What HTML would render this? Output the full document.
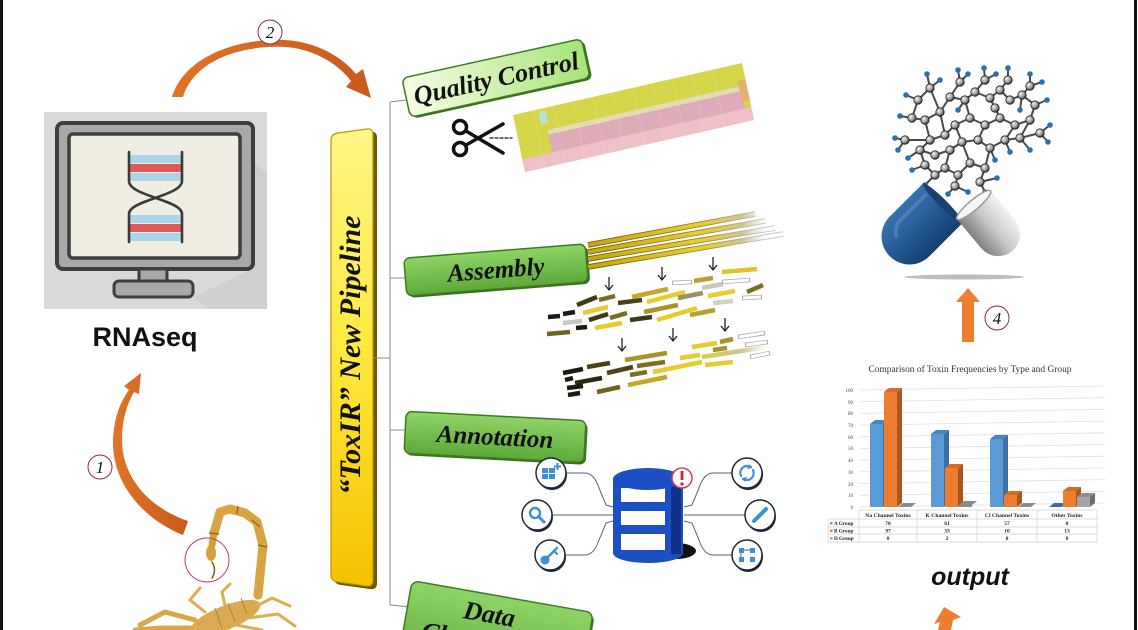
<!DOCTYPE html>
<html><head><meta charset="utf-8"><style>
html,body{margin:0;padding:0;background:#fff;}
body{width:1138px;height:630px;overflow:hidden;}
svg{display:block;overflow:hidden;}
</style></head><body>
<svg width="1138" height="630" viewBox="0 0 1138 630" xmlns="http://www.w3.org/2000/svg">
<defs>
<clipPath id="frame"><rect x="0" y="0" width="1138" height="630"/></clipPath>
<linearGradient id="org" x1="0" y1="0" x2="1" y2="0"><stop offset="0" stop-color="#e07428"/><stop offset="1" stop-color="#c95a1c"/></linearGradient>
<linearGradient id="bar" x1="0" y1="0" x2="0" y2="1"><stop offset="0" stop-color="#fff689"/><stop offset="0.5" stop-color="#ffe93a"/><stop offset="1" stop-color="#f6c000"/></linearGradient>
<linearGradient id="qc" x1="0" y1="0" x2="1" y2="0"><stop offset="0" stop-color="#f6fde6"/><stop offset="1" stop-color="#a6e47a"/></linearGradient>
<linearGradient id="gb" x1="0" y1="0" x2="0" y2="1"><stop offset="0" stop-color="#8fd466"/><stop offset="1" stop-color="#5ea83a"/></linearGradient>
<linearGradient id="rd" gradientUnits="userSpaceOnUse" x1="588" y1="0" x2="785" y2="0"><stop offset="0" stop-color="#c4a412"/><stop offset="0.55" stop-color="#e8cc30"/><stop offset="0.78" stop-color="#cfc490"/><stop offset="0.9" stop-color="#ffffff"/><stop offset="1" stop-color="#ffffff"/></linearGradient>
<linearGradient id="rdo" gradientUnits="userSpaceOnUse" x1="588" y1="0" x2="785" y2="0"><stop offset="0" stop-color="#6b5a00"/><stop offset="0.6" stop-color="#9a8a20"/><stop offset="0.85" stop-color="#bbbbbb"/><stop offset="1" stop-color="#c4c4c4"/></linearGradient>
<linearGradient id="blu" x1="0" y1="0" x2="0" y2="1"><stop offset="0" stop-color="#3a72ae"/><stop offset="0.5" stop-color="#245a94"/><stop offset="1" stop-color="#163f70"/></linearGradient>
<linearGradient id="gry" x1="0" y1="0" x2="0" y2="1"><stop offset="0" stop-color="#f2f2f2"/><stop offset="0.5" stop-color="#c8c8c8"/><stop offset="1" stop-color="#7e7e7e"/></linearGradient>
<radialGradient id="atom" cx="0.35" cy="0.35" r="0.7"><stop offset="0" stop-color="#f4f4f4"/><stop offset="0.6" stop-color="#9a9a9a"/><stop offset="1" stop-color="#2a2a2a"/></radialGradient>
</defs>
<g clip-path="url(#frame)">

<!-- frame -->
<rect x="0" y="0" width="3" height="630" fill="#111"/>
<rect x="1134" y="0" width="3" height="630" fill="#111"/>

<!-- computer -->
<rect x="44" y="112" width="223" height="197" fill="#d9d9d9"/>
<polygon points="253,160 267,175 267,309 210,309 193,297 253,269" fill="#cfcfcf"/>
<rect x="57" y="123" width="196" height="146" rx="6" fill="#a8a8a8" stroke="#3e3e3e" stroke-width="4"/>
<rect x="69" y="134" width="171" height="124" rx="4" fill="#f0ede2" stroke="#3e3e3e" stroke-width="3.5"/>
<rect x="139" y="269" width="28" height="14" fill="#a8a8a8" stroke="#3e3e3e" stroke-width="3"/>
<rect x="114" y="281" width="79" height="16" rx="5" fill="#a8a8a8" stroke="#3e3e3e" stroke-width="3"/>
<!-- DNA -->
<rect x="129" y="155" width="53" height="8" fill="#a9d4ea"/>
<rect x="129" y="164" width="53" height="8" fill="#e05a5a"/>
<rect x="129" y="173" width="53" height="8" fill="#a9d4ea"/>
<rect x="129" y="215" width="53" height="8" fill="#a9d4ea"/>
<rect x="129" y="224" width="53" height="8" fill="#e05a5a"/>
<rect x="129" y="233" width="53" height="8" fill="#a9d4ea"/>
<g fill="none" stroke="#3a3a3a" stroke-width="2.6" stroke-linecap="round">
<path d="M129,152 L129,181 C129,196 182,200 182,214 L182,242"/>
<path d="M182,152 L182,181 C182,196 129,200 129,214 L129,242"/>
</g>
<text x="145" y="346" font-family="Liberation Sans, sans-serif" font-weight="bold" font-size="27" text-anchor="middle" fill="#111">RNAseq</text>

<!-- arrow 2 -->
<path d="M172,97 C185,55 240,38 285,40 C318,42 343,58 356,74 L363,69 L371,98 L346,87 L351,81 C340,66 316,49 285,47 C245,45 195,58 183,97 Z" fill="url(#org)"/>
<circle cx="270" cy="32" r="12" fill="#fff" stroke="#8b2a4a" stroke-width="1"/>
<text x="270" y="38" font-family="Liberation Serif, serif" font-style="italic" font-size="17" text-anchor="middle" fill="#111">2</text>

<!-- arrow 1 -->
<path d="M183,535 C145,520 112,485 113,440 C114,418 120,402 129,390 L124,386 L141,373 L139,394 L134,392 C127,404 122,420 122,440 C122,478 150,508 188,521 Z" fill="url(#org)"/>
<circle cx="100" cy="467" r="12" fill="#fff" stroke="#8b2a4a" stroke-width="1"/>
<text x="100" y="473" font-family="Liberation Serif, serif" font-style="italic" font-size="17" text-anchor="middle" fill="#111">1</text>

<!-- scorpion -->
<g stroke-linecap="round" stroke-linejoin="round" fill="none">
<path d="M245,612 L272,598 L290,606" stroke="#dcae52" stroke-width="3"/>
<path d="M248,618 L278,614 L295,626" stroke="#dcae52" stroke-width="3"/>
<path d="M236,625 L262,630" stroke="#dcae52" stroke-width="3"/>
<path d="M225,605 L222,592 L230,584" stroke="#dcae52" stroke-width="3"/>
<path d="M205,612 L190,600 L200,588" stroke="#dcae52" stroke-width="3"/>
<path d="M195,620 L165,612 L140,625" stroke="#d8a848" stroke-width="5"/>
<path d="M190,628 L160,628 L135,630" stroke="#d8a848" stroke-width="5"/>
<path d="M258,595 L263,545 L257,522 L245,513 L230,509 L220,512 L214,533" stroke="#d9a443" stroke-width="9"/>
<path d="M214,533 L212,545" stroke="#d6a040" stroke-width="7"/>
<path d="M212,562 Q217,570 212,578" stroke="#7a5a20" stroke-width="1.5"/>
</g>
<g stroke="#8a6020" stroke-width="1.2">
<line x1="258" y1="545" x2="267" y2="547"/><line x1="252" y1="520" x2="260" y2="527"/><line x1="238" y1="506" x2="237" y2="514"/><line x1="209" y1="533" x2="219" y2="534"/>
</g>
<ellipse cx="211" cy="553" rx="5" ry="8" fill="#d6a040"/>
<ellipse cx="225" cy="618" rx="38" ry="12" transform="rotate(-22 225 618)" fill="#d9aa52"/>
<g stroke="#b08030" stroke-width="1"><line x1="215" y1="608" x2="222" y2="628"/><line x1="228" y1="603" x2="235" y2="622"/><line x1="241" y1="598" x2="247" y2="614"/></g>
<circle cx="207" cy="560" r="22" fill="none" stroke="#c0406a" stroke-width="1"/>

<!-- pipeline bar -->
<path d="M334,143 Q334,137 341,136 L371,132 Q377,131 377,138 L377,583 Q377,590 370,589 L341,585 Q334,584 334,578 Z" fill="#6e5c00"/>
<path d="M331,140 Q331,134 338,133 L367,129 Q373,128 373,135 L373,580 Q373,587 366,586 L338,582 Q331,581 331,575 Z" fill="url(#bar)" stroke="#b89800" stroke-width="1.2"/>
<text transform="translate(360,355) rotate(-90)" font-family="Liberation Serif, serif" font-weight="bold" font-style="italic" font-size="30" text-anchor="middle" fill="#111">“ToxIR” New Pipeline</text>

<!-- connectors -->
<g stroke="#8a8a8a" stroke-width="1" fill="none">
<line x1="390" y1="102" x2="390" y2="605"/>
<line x1="390" y1="102" x2="406" y2="100"/>
<line x1="390" y1="278" x2="407" y2="278"/>
<line x1="373" y1="358" x2="390" y2="358"/>
<line x1="390" y1="430" x2="407" y2="430"/>
<line x1="390" y1="605" x2="410" y2="607"/>
</g>

<!-- Quality Control box -->
<g transform="translate(496,78) rotate(-12.4)">
<rect x="-90" y="-18" width="184" height="40" rx="6" fill="#3a6e1e"/>
<rect x="-92" y="-20" width="184" height="40" rx="6" fill="url(#qc)" stroke="#3f7a20" stroke-width="1.5"/>
<text x="0" y="9" font-family="Liberation Serif, serif" font-weight="bold" font-style="italic" font-size="26" text-anchor="middle" fill="#111">Quality Control</text>
</g>
<!-- scissors -->
<g fill="none" stroke="#111" stroke-linecap="round">
<circle cx="460" cy="127" r="6.5" stroke-width="3.5"/>
<circle cx="460" cy="149" r="6.5" stroke-width="3.5"/>
<path d="M466,131 L503,153" stroke-width="3.5"/>
<path d="M466,145 L503,124" stroke-width="3.5"/>
<line x1="490" y1="138" x2="512" y2="138" stroke-width="1.3" stroke-dasharray="3,2"/>
</g>
<!-- QC heatmap -->
<g transform="matrix(0.9957,-0.226,0.207,0.983,513,115)">
<rect x="0" y="0" width="230" height="58" fill="#d6d64a"/>
<rect x="30" y="22" width="192" height="5" fill="#e6dcb4"/>
<rect x="30" y="27" width="194" height="18" fill="#deacb8"/>
<rect x="0" y="45" width="230" height="13" fill="#f0c0c8"/>
<rect x="222" y="16" width="8" height="22" fill="#e4b070"/>
<rect x="25" y="3" width="7" height="12" fill="#b4e4dc"/>
<g stroke="#ffffff" stroke-opacity="0.25" stroke-width="0.6">
<line x1="20" y1="0" x2="20" y2="58"/><line x1="40" y1="0" x2="40" y2="58"/><line x1="60" y1="0" x2="60" y2="58"/><line x1="80" y1="0" x2="80" y2="58"/><line x1="100" y1="0" x2="100" y2="58"/><line x1="120" y1="0" x2="120" y2="58"/><line x1="140" y1="0" x2="140" y2="58"/><line x1="160" y1="0" x2="160" y2="58"/><line x1="180" y1="0" x2="180" y2="58"/><line x1="200" y1="0" x2="200" y2="58"/>
</g>
</g>

<!-- Assembly box -->
<g transform="translate(496,270) rotate(-4.5)">
<rect x="-89" y="-17" width="182" height="38" rx="6" fill="#3a6e1e"/>
<rect x="-91" y="-19" width="182" height="38" rx="6" fill="url(#gb)" stroke="#3f7a20" stroke-width="1.5"/>
<text x="0" y="8" font-family="Liberation Serif, serif" font-weight="bold" font-style="italic" font-size="25" text-anchor="middle" fill="#111">Assembly</text>
</g>
<!-- long reads -->
<g stroke-linecap="butt">
<line x1="588" y1="245" x2="755" y2="214" stroke="url(#rdo)" stroke-width="5.5"/>
<line x1="588" y1="252" x2="765" y2="221" stroke="url(#rdo)" stroke-width="5.5"/>
<line x1="588" y1="259" x2="775" y2="228" stroke="url(#rdo)" stroke-width="5.5"/>
<line x1="588" y1="267" x2="783" y2="234" stroke="url(#rdo)" stroke-width="5.5"/>
<line x1="588" y1="245" x2="755" y2="214" stroke="url(#rd)" stroke-width="3.8"/>
<line x1="588" y1="252" x2="765" y2="221" stroke="url(#rd)" stroke-width="3.8"/>
<line x1="588" y1="259" x2="775" y2="228" stroke="url(#rd)" stroke-width="3.8"/>
<line x1="588" y1="267" x2="783" y2="234" stroke="url(#rd)" stroke-width="3.8"/>
</g>
<!-- arrows down -->
<g stroke="#222" stroke-width="1.3" fill="none">
<path d="M609,277 L609,290 M605,285 L609,290 L613,285"/>
<path d="M662,267 L662,280 M658,275 L662,280 L666,275"/>
<path d="M713,257 L713,270 M709,265 L713,270 L717,265"/>
<path d="M622,338 L622,351 M618,346 L622,351 L626,346"/>
<path d="M673,328 L673,341 M669,336 L673,341 L677,336"/>
<path d="M725,318 L725,331 M721,326 L725,331 L729,326"/>
</g>
<!-- fragments -->
<g stroke-width="4.5" stroke-linecap="butt">
<line x1="548" y1="317" x2="560" y2="316" stroke="#1a1a10"/>
<line x1="563" y1="314" x2="575" y2="312" stroke="#1a1a10"/>
<line x1="577" y1="305" x2="597" y2="297" stroke="#3d3a18"/>
<line x1="599" y1="300" x2="615" y2="296" stroke="#7a7020"/>
<line x1="583" y1="313" x2="608" y2="307" stroke="#e6cc30"/>
<line x1="563" y1="323" x2="582" y2="321" stroke="#c8c8c0"/>
<line x1="576" y1="328" x2="587" y2="327" stroke="#1a1a10"/>
<line x1="589" y1="320" x2="608" y2="314" stroke="#3d3a18"/>
<line x1="610" y1="318" x2="627" y2="313" stroke="#7a7020"/>
<line x1="547" y1="334" x2="570" y2="332" stroke="#6e6420"/>
<line x1="595" y1="328" x2="622" y2="323" stroke="#e6cc30"/>
<line x1="618" y1="303" x2="642" y2="300" stroke="#4a4418"/>
<line x1="632" y1="297" x2="668" y2="289" stroke="#c4a828"/>
<line x1="647" y1="302" x2="685" y2="292" stroke="#e6cc30"/>
<line x1="630" y1="320" x2="652" y2="317" stroke="#3d3a18"/>
<line x1="644" y1="312" x2="678" y2="305" stroke="#a89428"/>
<line x1="657" y1="320" x2="697" y2="308" stroke="#e6cc30"/>
<line x1="678" y1="298" x2="703" y2="293" stroke="#9a9060"/>
<line x1="694" y1="281" x2="713" y2="278" stroke="#b8a030"/>
<line x1="702" y1="288" x2="723" y2="284" stroke="#c8c8c0"/>
<line x1="722" y1="272" x2="757" y2="269" stroke="#e0c428"/>
<line x1="708" y1="296" x2="735" y2="291" stroke="#e6cc30"/>
<line x1="690" y1="315" x2="715" y2="310" stroke="#b8a030"/>
<line x1="713" y1="303" x2="733" y2="301" stroke="#d0d0c8"/>
<line x1="747" y1="292" x2="763" y2="285" stroke="#7a7020"/>
<line x1="563" y1="373" x2="583" y2="369" stroke="#1a1a10"/>
<line x1="565" y1="380" x2="573" y2="378" stroke="#1a1a10"/>
<line x1="575" y1="383" x2="602" y2="378" stroke="#2a2810"/>
<line x1="567" y1="388" x2="583" y2="386" stroke="#1a1a10"/>
<line x1="568" y1="395" x2="580" y2="393" stroke="#1a1a10"/>
<line x1="587" y1="367" x2="610" y2="363" stroke="#4a4418"/>
<line x1="597" y1="392" x2="620" y2="387" stroke="#6e6420"/>
<line x1="607" y1="373" x2="633" y2="367" stroke="#4a4418"/>
<line x1="625" y1="360" x2="667" y2="353" stroke="#a89428"/>
<line x1="630" y1="375" x2="647" y2="372" stroke="#7a7020"/>
<line x1="628" y1="385" x2="667" y2="377" stroke="#c4a828"/>
<line x1="637" y1="366" x2="665" y2="362" stroke="#7a7020"/>
<line x1="653" y1="372" x2="702" y2="362" stroke="#e6cc30"/>
<line x1="680" y1="358" x2="700" y2="355" stroke="#e6cc30"/>
<line x1="692" y1="347" x2="717" y2="343" stroke="#e6cc30"/>
<line x1="720" y1="342" x2="733" y2="339" stroke="#a89428"/>
<line x1="713" y1="350" x2="727" y2="348" stroke="#a89428"/>
<line x1="705" y1="365" x2="733" y2="362" stroke="#e6cc30"/>
<line x1="702" y1="357" x2="767" y2="347" stroke="url(#rd)"/>
</g>
<g stroke-width="4.5">
<line x1="672" y1="283" x2="692" y2="282" stroke="#aaa"/>
<line x1="722" y1="282" x2="750" y2="280" stroke="#aaa"/>
<line x1="742" y1="298" x2="762" y2="297" stroke="#aaa"/>
<line x1="738" y1="337" x2="765" y2="333" stroke="#aaa"/>
<line x1="745" y1="345" x2="768" y2="342" stroke="#aaa"/>
<line x1="750" y1="357" x2="770" y2="353" stroke="#aaa"/>
</g>
<g stroke-width="3" stroke="#fff">
<line x1="673" y1="283" x2="691" y2="282"/>
<line x1="723" y1="282" x2="749" y2="280"/>
<line x1="743" y1="298" x2="761" y2="297"/>
<line x1="739" y1="337" x2="764" y2="333"/>
<line x1="746" y1="345" x2="767" y2="342"/>
<line x1="751" y1="357" x2="769" y2="353"/>
</g>

<!-- Annotation box -->
<g transform="translate(495,437) rotate(3)">
<rect x="-88" y="-19" width="180" height="42" rx="6" fill="#3a6e1e"/>
<rect x="-90" y="-21" width="180" height="42" rx="6" fill="url(#gb)" stroke="#3f7a20" stroke-width="1.5"/>
<text x="0" y="8" font-family="Liberation Serif, serif" font-weight="bold" font-style="italic" font-size="25" text-anchor="middle" fill="#111">Annotation</text>
</g>

<!-- database -->
<g stroke="#5a6270" stroke-width="1" fill="none">
<path d="M566,473 L585,473 Q594,473 599,488 L606,505 L613,507"/>
<line x1="553" y1="515" x2="613" y2="515"/>
<path d="M566,555 L585,555 Q594,555 599,540 L606,523 L613,521"/>
<path d="M732,473 L713,473 Q704,473 699,488 L692,505 L684,507"/>
<line x1="745" y1="515" x2="684" y2="515"/>
<path d="M732,555 L713,555 Q704,555 699,540 L692,523 L684,521"/>
</g>
<ellipse cx="676" cy="551" rx="20" ry="8" fill="#111"/>
<path d="M613,479 L613,553 A35,10 0 0 0 683,553 L683,479 Z" fill="#1d4fc4"/>
<rect x="621" y="488" width="44" height="14" fill="#fff"/>
<rect x="621" y="511" width="44" height="14" fill="#fff"/>
<rect x="621" y="534" width="44" height="16" fill="#fff"/>
<rect x="671" y="486" width="10" height="68" fill="#10308a"/>
<ellipse cx="648" cy="479" rx="35" ry="11" fill="#1d4fc4"/>
<circle cx="682" cy="478" r="10" fill="#fff" stroke="#d04050" stroke-width="1.5"/>
<rect x="680.6" y="471" width="2.8" height="9" fill="#d02030"/>
<circle cx="682" cy="484" r="1.6" fill="#d02030"/>
<!-- icon circles -->
<g>
<circle cx="552" cy="475" r="15" fill="#1c2838"/><circle cx="551" cy="473" r="15" fill="#fff" stroke="#1c2838" stroke-width="1.5"/>
<circle cx="538" cy="517" r="15" fill="#1c2838"/><circle cx="537" cy="515" r="15" fill="#fff" stroke="#1c2838" stroke-width="1.5"/>
<circle cx="551" cy="557" r="15" fill="#1c2838"/><circle cx="550" cy="555" r="15" fill="#fff" stroke="#1c2838" stroke-width="1.5"/>
<circle cx="748" cy="475" r="15" fill="#1c2838"/><circle cx="747" cy="473" r="15" fill="#fff" stroke="#1c2838" stroke-width="1.5"/>
<circle cx="761" cy="517" r="15" fill="#1c2838"/><circle cx="760" cy="515" r="15" fill="#fff" stroke="#1c2838" stroke-width="1.5"/>
<circle cx="748" cy="557" r="15" fill="#1c2838"/><circle cx="747" cy="555" r="15" fill="#fff" stroke="#1c2838" stroke-width="1.5"/>
</g>
<g fill="#3d8fd6">
<rect x="542" y="468" width="6" height="5"/><rect x="549" y="468" width="6" height="5"/><rect x="542" y="474" width="6" height="5"/><rect x="549" y="474" width="6" height="5"/>
<rect x="556.5" y="463" width="2" height="7"/><rect x="554" y="465.5" width="7" height="2"/>
<circle cx="545" cy="560" r="4.5"/>
<rect x="739" y="548" width="5" height="5"/><rect x="750" y="548" width="5" height="5"/><rect x="739" y="557" width="5" height="5"/><rect x="750" y="557" width="5" height="5"/>
</g>
<g fill="none" stroke="#3d8fd6" stroke-linecap="round">
<circle cx="535" cy="513" r="5" stroke-width="2.5"/>
<line x1="539" y1="517" x2="544" y2="522" stroke-width="3"/>
<line x1="548" y1="557" x2="557" y2="548" stroke-width="2.5"/>
<line x1="554" y1="551" x2="557" y2="554" stroke-width="2"/>
<path d="M741,476 A7,7 0 0 1 751,467" stroke-width="2.2"/>
<path d="M753,470 A7,7 0 0 1 743,479" stroke-width="2.2"/>
<line x1="754" y1="521" x2="766" y2="509" stroke-width="4"/>
<line x1="744" y1="550" x2="750" y2="550" stroke-width="1.2"/>
<line x1="741" y1="553" x2="741" y2="557" stroke-width="1.2"/>
</g>
<path d="M749,464 L752,468 L747,469 Z M745,482 L742,478 L747,477 Z" fill="#3d8fd6"/>

<!-- Data Classification box -->
<g transform="translate(495,640) rotate(10)">
<rect x="-90" y="-42" width="184" height="90" rx="7" fill="#3a6e1e"/>
<rect x="-92" y="-44" width="184" height="90" rx="7" fill="url(#gb)" stroke="#3f7a20" stroke-width="1.5"/>
<text x="-10" y="-16" font-family="Liberation Serif, serif" font-weight="bold" font-style="italic" font-size="26" text-anchor="middle" fill="#111">Data</text>
<text x="0" y="12" font-family="Liberation Serif, serif" font-weight="bold" font-style="italic" font-size="26" text-anchor="middle" fill="#111">Classification</text>
</g>

<!-- capsule + molecule -->
<ellipse cx="964" cy="277" rx="60" ry="2.5" fill="#bdbdbd"/>
<g stroke="#4a4a4a" stroke-width="2">
<line x1="930" y1="88" x2="918" y2="100"/><line x1="918" y1="100" x2="912" y2="118"/><line x1="912" y1="118" x2="925" y2="120"/><line x1="925" y1="120" x2="940" y2="112"/><line x1="940" y1="112" x2="950" y2="97"/><line x1="950" y1="97" x2="960" y2="82"/><line x1="950" y1="97" x2="965" y2="100"/><line x1="965" y1="100" x2="975" y2="92"/><line x1="975" y1="92" x2="985" y2="80"/><line x1="975" y1="92" x2="990" y2="98"/><line x1="990" y1="98" x2="1000" y2="90"/><line x1="1000" y1="90" x2="1008" y2="80"/><line x1="1000" y1="90" x2="1010" y2="100"/><line x1="1010" y1="100" x2="1022" y2="95"/><line x1="1022" y1="95" x2="1030" y2="86"/><line x1="1022" y1="95" x2="1035" y2="105"/><line x1="1035" y1="105" x2="1030" y2="120"/><line x1="1030" y1="120" x2="1015" y2="125"/><line x1="1015" y1="125" x2="1000" y2="118"/><line x1="1000" y1="118" x2="995" y2="108"/><line x1="995" y1="108" x2="990" y2="98"/><line x1="1000" y1="118" x2="985" y2="125"/><line x1="985" y1="125" x2="970" y2="118"/><line x1="970" y1="118" x2="965" y2="100"/><line x1="970" y1="118" x2="955" y2="125"/><line x1="955" y1="125" x2="945" y2="135"/><line x1="945" y1="135" x2="940" y2="112"/><line x1="945" y1="135" x2="930" y2="140"/><line x1="930" y1="140" x2="925" y2="120"/><line x1="930" y1="140" x2="905" y2="140"/><line x1="930" y1="140" x2="920" y2="150"/><line x1="920" y1="150" x2="935" y2="155"/><line x1="935" y1="155" x2="950" y2="150"/><line x1="950" y1="150" x2="962" y2="142"/><line x1="962" y1="142" x2="955" y2="125"/><line x1="962" y1="142" x2="978" y2="140"/><line x1="978" y1="140" x2="985" y2="125"/><line x1="978" y1="140" x2="990" y2="148"/><line x1="990" y1="148" x2="1005" y2="140"/><line x1="1005" y1="140" x2="1015" y2="125"/><line x1="1005" y1="140" x2="1020" y2="138"/><line x1="1020" y1="138" x2="1030" y2="120"/><line x1="1020" y1="138" x2="1040" y2="133"/><line x1="950" y1="150" x2="945" y2="168"/><line x1="945" y1="168" x2="958" y2="175"/><line x1="958" y1="175" x2="970" y2="163"/><line x1="970" y1="163" x2="962" y2="142"/><line x1="970" y1="163" x2="985" y2="168"/><line x1="985" y1="168" x2="990" y2="148"/><line x1="958" y1="175" x2="955" y2="186"/><line x1="945" y1="168" x2="935" y2="175"/><line x1="935" y1="175" x2="925" y2="165"/><line x1="925" y1="165" x2="920" y2="150"/><line x1="985" y1="168" x2="980" y2="182"/><line x1="930" y1="88" x2="940" y2="112"/>
<line x1="930" y1="88" x2="927" y2="74"/><line x1="930" y1="88" x2="940" y2="80"/><line x1="918" y1="100" x2="906" y2="95"/><line x1="912" y1="118" x2="900" y2="116"/><line x1="905" y1="140" x2="895" y2="138"/><line x1="905" y1="140" x2="898" y2="150"/><line x1="960" y1="82" x2="958" y2="70"/><line x1="960" y1="82" x2="968" y2="74"/><line x1="985" y1="80" x2="984" y2="68"/><line x1="985" y1="80" x2="996" y2="74"/><line x1="1008" y1="80" x2="1008" y2="68"/><line x1="1030" y1="86" x2="1030" y2="74"/><line x1="1030" y1="86" x2="1042" y2="82"/><line x1="1035" y1="105" x2="1047" y2="100"/><line x1="1040" y1="133" x2="1050" y2="125"/><line x1="1040" y1="133" x2="1048" y2="142"/><line x1="1020" y1="138" x2="1030" y2="150"/><line x1="1005" y1="140" x2="1010" y2="152"/><line x1="990" y1="148" x2="995" y2="160"/><line x1="980" y1="182" x2="997" y2="178"/><line x1="980" y1="182" x2="985" y2="192"/><line x1="955" y1="186" x2="968" y2="192"/><line x1="955" y1="186" x2="948" y2="194"/><line x1="935" y1="175" x2="925" y2="185"/><line x1="925" y1="165" x2="912" y2="170"/><line x1="920" y1="150" x2="908" y2="158"/><line x1="965" y1="100" x2="958" y2="110"/><line x1="1022" y1="95" x2="1020" y2="110"/>
</g>
<g fill="url(#atom)" stroke="#1e1e1e" stroke-width="0.8">
<circle cx="930" cy="88" r="4.2"/><circle cx="918" cy="100" r="4.2"/><circle cx="912" cy="118" r="4.2"/><circle cx="925" cy="120" r="4.2"/><circle cx="940" cy="112" r="4.2"/><circle cx="950" cy="97" r="4.2"/><circle cx="960" cy="82" r="4.2"/><circle cx="965" cy="100" r="4.2"/><circle cx="975" cy="92" r="4.2"/><circle cx="985" cy="80" r="4.2"/><circle cx="990" cy="98" r="4.2"/><circle cx="1000" cy="90" r="4.2"/><circle cx="1008" cy="80" r="4.2"/><circle cx="1010" cy="100" r="4.2"/><circle cx="1022" cy="95" r="4.2"/><circle cx="1030" cy="86" r="4.2"/><circle cx="1035" cy="105" r="4.2"/><circle cx="1030" cy="120" r="4.2"/><circle cx="1015" cy="125" r="4.2"/><circle cx="1000" cy="118" r="4.2"/><circle cx="985" cy="125" r="4.2"/><circle cx="970" cy="118" r="4.2"/><circle cx="955" cy="125" r="4.2"/><circle cx="945" cy="135" r="4.2"/><circle cx="930" cy="140" r="4.2"/><circle cx="905" cy="140" r="4.2"/><circle cx="920" cy="150" r="4.2"/><circle cx="935" cy="155" r="4.2"/><circle cx="950" cy="150" r="4.2"/><circle cx="962" cy="142" r="4.2"/><circle cx="978" cy="140" r="4.2"/><circle cx="990" cy="148" r="4.2"/><circle cx="1005" cy="140" r="4.2"/><circle cx="1020" cy="138" r="4.2"/><circle cx="1040" cy="133" r="4.2"/><circle cx="945" cy="168" r="4.2"/><circle cx="958" cy="175" r="4.2"/><circle cx="970" cy="163" r="4.2"/><circle cx="985" cy="168" r="4.2"/><circle cx="955" cy="186" r="4.2"/><circle cx="935" cy="175" r="4.2"/><circle cx="925" cy="165" r="4.2"/><circle cx="995" cy="108" r="4.2"/><circle cx="980" cy="182" r="4.2"/>
</g>
<g fill="#2d6fae">
<circle cx="927" cy="74" r="2.8"/><circle cx="940" cy="80" r="2.8"/><circle cx="906" cy="95" r="2.8"/><circle cx="900" cy="116" r="2.8"/><circle cx="895" cy="138" r="2.8"/><circle cx="898" cy="150" r="2.8"/><circle cx="958" cy="70" r="2.8"/><circle cx="968" cy="74" r="2.8"/><circle cx="984" cy="68" r="2.8"/><circle cx="996" cy="74" r="2.8"/><circle cx="1008" cy="68" r="2.8"/><circle cx="1030" cy="74" r="2.8"/><circle cx="1042" cy="82" r="2.8"/><circle cx="1047" cy="100" r="2.8"/><circle cx="1050" cy="125" r="2.8"/><circle cx="1048" cy="142" r="2.8"/><circle cx="1030" cy="150" r="2.8"/><circle cx="1010" cy="152" r="2.8"/><circle cx="995" cy="160" r="2.8"/><circle cx="997" cy="178" r="2.8"/><circle cx="985" cy="192" r="2.8"/><circle cx="968" cy="192" r="2.8"/><circle cx="948" cy="194" r="2.8"/><circle cx="925" cy="185" r="2.8"/><circle cx="912" cy="170" r="2.8"/><circle cx="908" cy="158" r="2.8"/><circle cx="958" cy="110" r="2.8"/><circle cx="1020" cy="110" r="2.8"/>
</g>
<!-- blue capsule -->
<g transform="translate(918,228) rotate(-45)">
<path d="M35,-28 L-12,-28 A28,28 0 0 0 -12,28 L35,28 Z" fill="url(#blu)"/>
<path d="M30,-18 L-10,-18 A18,18 0 0 0 -22,-8" fill="none" stroke="#5a8cc4" stroke-width="4" stroke-opacity="0.6"/>
<ellipse cx="35" cy="0" rx="4" ry="28" fill="#1a4070"/>
</g>
<!-- gray capsule -->
<g transform="translate(993,228) rotate(50)">
<path d="M-30,-22 L8,-22 A22,22 0 0 1 8,22 L-30,22 Z" fill="url(#gry)"/>
<ellipse cx="-30" cy="0" rx="5" ry="22" fill="#f6f6f6" stroke="#9a9a9a" stroke-width="1.5"/>
</g>
<!-- arrow 4 -->
<polygon points="962,342 974,342 974,302 980,302 968,288 956,302 962,302" fill="#ed7d31"/>
<circle cx="997" cy="318" r="12" fill="#fff" stroke="#8b2a4a" stroke-width="1"/>
<text x="997" y="324" font-family="Liberation Serif, serif" font-style="italic" font-size="17" text-anchor="middle" fill="#111">4</text>

<!-- chart -->
<text x="970" y="372" font-family="Liberation Serif, serif" font-size="9.3" text-anchor="middle" fill="#333" textLength="203" lengthAdjust="spacingAndGlyphs">Comparison of Toxin Frequencies by Type and Group</text>
<g stroke="#e0e0e0" stroke-width="0.8">
<line x1="860" y1="507" x2="1105" y2="503"/>
<line x1="860" y1="495.3" x2="1105" y2="491.3"/>
<line x1="860" y1="483.6" x2="1105" y2="479.6"/>
<line x1="860" y1="471.9" x2="1105" y2="467.9"/>
<line x1="860" y1="460.2" x2="1105" y2="456.2"/>
<line x1="860" y1="448.5" x2="1105" y2="444.5"/>
<line x1="860" y1="436.8" x2="1105" y2="432.8"/>
<line x1="860" y1="425.1" x2="1105" y2="421.1"/>
<line x1="860" y1="413.4" x2="1105" y2="409.4"/>
<line x1="860" y1="401.7" x2="1105" y2="397.7"/>
<line x1="860" y1="390" x2="1105" y2="386"/>
</g>
<g font-family="Liberation Serif, serif" font-size="5" fill="#444" text-anchor="end">
<text x="853" y="509">0</text><text x="853" y="497">10</text><text x="853" y="486">20</text><text x="853" y="474">30</text><text x="853" y="462">40</text><text x="853" y="450">50</text><text x="853" y="439">60</text><text x="853" y="427">70</text><text x="853" y="415">80</text><text x="853" y="404">90</text><text x="853" y="392">100</text>
</g>
<!-- bars -->
<g>
<polygon points="883,424 888,420 888,503 883,507" fill="#3f6f9e"/><polygon points="870,424 875,420 888,420 883,424" fill="#4a84bc"/><rect x="870" y="424" width="13" height="83" fill="#5b9bd5"/>
<polygon points="897,392 902,388 902,503 897,507" fill="#a9561f"/><polygon points="884,392 889,388 902,388 897,392" fill="#d46a28"/><rect x="884" y="392" width="13" height="115" fill="#ed7d31"/>
<polygon points="898,507 903,503 916,503 911,507" fill="#8a8a8a"/>
<polygon points="944,434 949,430 949,503 944,507" fill="#3f6f9e"/><polygon points="931,434 936,430 949,430 944,434" fill="#4a84bc"/><rect x="931" y="434" width="13" height="73" fill="#5b9bd5"/>
<polygon points="958,468 963,464 963,503 958,507" fill="#a9561f"/><polygon points="945,468 950,464 963,464 958,468" fill="#d46a28"/><rect x="945" y="468" width="13" height="39" fill="#ed7d31"/>
<polygon points="959,505 964,501 977,501 972,505 972,507 959,507" fill="#8a8a8a"/>
<polygon points="1003,439 1008,435 1008,503 1003,507" fill="#3f6f9e"/><polygon points="990,439 995,435 1008,435 1003,439" fill="#4a84bc"/><rect x="990" y="439" width="13" height="68" fill="#5b9bd5"/>
<polygon points="1017,495 1022,491 1022,503 1017,507" fill="#a9561f"/><polygon points="1004,495 1009,491 1022,491 1017,495" fill="#d46a28"/><rect x="1004" y="495" width="13" height="12" fill="#ed7d31"/>
<polygon points="1018,507 1023,503 1036,503 1031,507" fill="#8a8a8a"/>
<polygon points="1049,507 1054,503 1067,503 1062,507" fill="#3f6f9e"/>
<polygon points="1076,491 1081,487 1081,503 1076,507" fill="#a9561f"/><polygon points="1063,491 1068,487 1081,487 1076,491" fill="#d46a28"/><rect x="1063" y="491" width="13" height="16" fill="#ed7d31"/>
<polygon points="1090,497 1095,493 1095,503 1090,507" fill="#6e6e6e"/><polygon points="1077,497 1082,493 1095,493 1090,497" fill="#8e8e8e"/><rect x="1077" y="497" width="13" height="10" fill="#a5a5a5"/>
</g>
<!-- table -->
<g stroke="#cfcfcf" stroke-width="0.7">
<line x1="859" y1="510" x2="1097" y2="510"/>
<line x1="828" y1="519" x2="1097" y2="519"/>
<line x1="828" y1="527" x2="1097" y2="527"/>
<line x1="828" y1="534" x2="1097" y2="534"/>
<line x1="828" y1="542" x2="1097" y2="542"/>
<line x1="828" y1="519" x2="828" y2="542"/>
<line x1="859" y1="510" x2="859" y2="542"/>
<line x1="917" y1="510" x2="917" y2="542"/>
<line x1="977" y1="510" x2="977" y2="542"/>
<line x1="1037" y1="510" x2="1037" y2="542"/>
<line x1="1097" y1="510" x2="1097" y2="542"/>
</g>
<g font-family="Liberation Serif, serif" font-weight="bold" font-size="5.6" fill="#222" text-anchor="middle">
<text x="888" y="517">Na Channel Toxins</text><text x="947" y="517">K Channel Toxins</text><text x="1007" y="517">Cl Channel Toxins</text><text x="1067" y="517">Other Toxins</text>
<text x="888" y="525">70</text><text x="947" y="525">61</text><text x="1007" y="525">57</text><text x="1067" y="525">0</text>
<text x="888" y="532.5">97</text><text x="947" y="532.5">33</text><text x="1007" y="532.5">10</text><text x="1067" y="532.5">13</text>
<text x="888" y="540">0</text><text x="947" y="540">2</text><text x="1007" y="540">0</text><text x="1067" y="540">8</text>
</g>
<g font-family="Liberation Serif, serif" font-weight="bold" font-size="5.2" fill="#222">
<rect x="830" y="522" width="2.5" height="2.5" fill="#5b9bd5"/><text x="834" y="525">A Group</text>
<rect x="830" y="529.5" width="2.5" height="2.5" fill="#ed7d31"/><text x="834" y="532.5">B Group</text>
<rect x="830" y="537" width="2.5" height="2.5" fill="#a5a5a5"/><text x="834" y="540">D Group</text>
</g>

<text x="970" y="585" font-family="Liberation Sans, sans-serif" font-weight="bold" font-style="italic" font-size="25" text-anchor="middle" fill="#111">output</text>
<polygon points="944,607 961,617 953,620 951,630 938,630 940,622 934,624" fill="#ed7d31"/>
</g>
</svg>
</body></html>
